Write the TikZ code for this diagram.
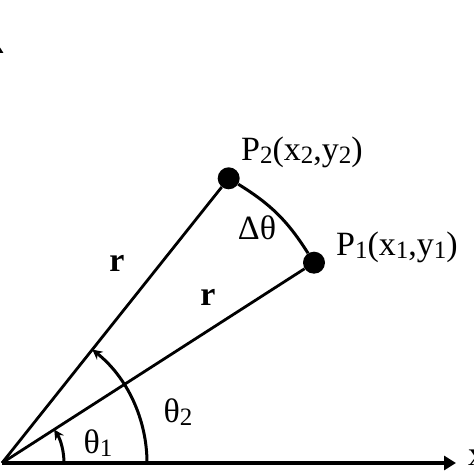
\documentclass[tikz,border=0pt]{standalone}
\usepackage{fontspec}
\setmainfont{Liberation Serif}
\usetikzlibrary{arrows.meta,calc}
\newcommand{\mysub}[1]{\raisebox{-0.22ex}{\fontsize{25}{27}\selectfont #1}}
\begin{document}
\begin{tikzpicture}[x=1pt,y=1pt,
  dot/.style={circle,fill=black,minimum size=22pt,inner sep=0pt},
  lbl/.style={font=\fontsize{34}{37}\selectfont,inner sep=0pt},
  radial/.style={line width=2.8pt},
  axis/.style={line width=3.4pt,-{Triangle[length=12pt,width=14pt]}},
  angarc/.style={line width=3pt,-{Stealth[length=10pt,width=10pt]}}]
\useasboundingbox (0,0) rectangle (474,474);
\coordinate (O) at (2,11);
\node[dot] (P1) at (314,211.3) {};
\node[dot] (P2) at (228.7,295.7) {};
\coordinate (xe) at (456,11);
\coordinate (ye) at (-4,433);
\coordinate (yb) at (-4,11);
% axes
\draw[axis] (O) -- (xe);
\draw[axis] (yb) -- (ye);
\node[lbl,anchor=west] (xl) at (468,16) {x};
% radii
\draw[radial] (O) -- (P1);
\draw[radial] (O) -- (P2);
% angle arcs
\draw[angarc] ($(O)+(62,0)$) arc[start angle=0,end angle=32.7,radius=62];
\draw[angarc] ($(O)+(145,0)$) arc[start angle=0,end angle=51.5,radius=145];
% delta theta arc
\draw[line width=3pt] (P1) to[bend right=13] (P2);
% labels
\node[lbl] (t1) at (98,31) {θ\mysub{1}};
\node[lbl] (t2) at (178,62) {θ\mysub{2}};
\node[lbl] (r1) at (117,211) {\textbf{r}};
\node[lbl] (r2) at (208,177) {\textbf{r}};
\node[lbl] (dt) at (257,246) {Δθ};
\node[lbl] (l2) at (302,322) {P\mysub{2}(x\mysub{2},y\mysub{2})};
\node[lbl] (l1) at (397,227) {P\mysub{1}(x\mysub{1},y\mysub{1})};
\end{tikzpicture}
\end{document}
